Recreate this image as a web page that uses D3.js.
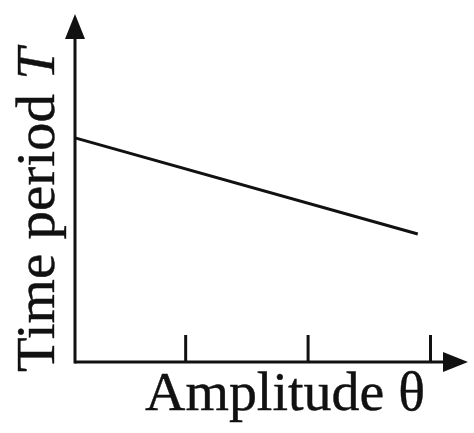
<!DOCTYPE html>
<html>
<head>
<meta charset="utf-8">
<script src="https://cdn.jsdelivr.net/npm/d3@7"></script>
<style>
  html, body { margin: 0; padding: 0; background: #fff; }
  svg { display: block; }
</style>
</head>
<body>
<svg id="chart" width="474" height="433"></svg>
<script>
// Data
const amplitude = [0.1, 2.9];          // arbitrary units along x
const timePeriod = [6.44, 3.68];       // arbitrary units along y
const xTickValues = [1, 2, 3];
const xLabel = "Amplitude θ";
const yLabelMain = "Time period ";
const yLabelSymbol = "T";

const svg = d3.select("#chart");
const ink = "#111";
const font = "Liberation Serif";

const x = d3.scaleLinear().domain([0.1, 3]).range([75, 430]);
const y = d3.scaleLinear().domain([0, 10]).range([362, 14]);

// x axis with ticks
const xAxis = d3.axisTop(x).tickValues(xTickValues).tickSize(27).tickFormat("");
const gx = svg.append("g").attr("transform", `translate(0,${y(0)})`).call(xAxis);
gx.select(".domain").remove();
gx.selectAll(".tick line").attr("stroke", ink).attr("stroke-width", 3);

// axis lines
svg.append("line").attr("x1", x(0.1)).attr("x2", 445).attr("y1", y(0)).attr("y2", y(0))
  .attr("stroke", ink).attr("stroke-width", 3);
svg.append("line").attr("x1", x(0.1)).attr("x2", x(0.1)).attr("y1", y(0) + 1.5).attr("y2", 36)
  .attr("stroke", ink).attr("stroke-width", 3);

// arrowheads
svg.append("path")
  .attr("d", `M${x(0.1)},14 L${x(0.1) - 10},39 L${x(0.1) + 10},39 Z`)
  .attr("fill", ink);
svg.append("path")
  .attr("d", `M468,${y(0)} L443,${y(0) - 10} L443,${y(0) + 10} Z`)
  .attr("fill", ink);

// data line
const line = d3.line().x((d, i) => x(amplitude[i])).y(d => y(d));
svg.append("path").datum(timePeriod)
  .attr("d", line)
  .attr("fill", "none").attr("stroke", ink).attr("stroke-width", 3);

// x label
svg.append("text")
  .attr("x", 145).attr("y", 410)
  .attr("font-family", font).attr("font-size", 55)
  .attr("fill", ink).attr("stroke", ink).attr("stroke-width", 0.4)
  .attr("textLength", 280).attr("lengthAdjust", "spacingAndGlyphs")
  .text(xLabel);

// y label
const yl = svg.append("text")
  .attr("font-family", font).attr("font-size", 55)
  .attr("fill", ink).attr("stroke", ink).attr("stroke-width", 0.4);
yl.append("tspan").text(yLabelMain);
yl.append("tspan").attr("font-style", "italic").text(yLabelSymbol);
// fit the label to its span (372 -> 48)
const natural = yl.node().getComputedTextLength();
const sx = 324 / natural;
yl.attr("transform", `translate(54,372) rotate(-90) scale(${sx},1)`);
</script>
</body>
</html>
